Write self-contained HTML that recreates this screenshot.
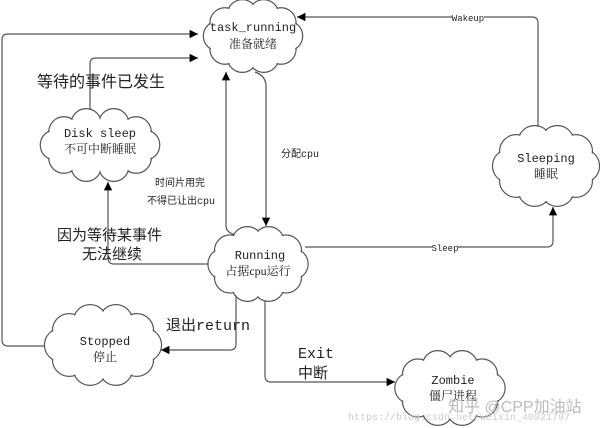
<!DOCTYPE html>
<html><head><meta charset="utf-8"><style>
html,body{margin:0;padding:0;background:#fff;width:600px;height:428px;overflow:hidden}
svg text{font-family:"Liberation Mono","Noto Sans CJK SC",monospace;fill:#222}
.cn{font-family:"Liberation Serif","Noto Serif CJK SC",serif}
</style></head><body>
<svg id="s" width="600" height="428" viewBox="0 0 600 428" xmlns="http://www.w3.org/2000/svg">
<defs><marker id="a" viewBox="0 0 10 10" refX="10" refY="5" markerWidth="7" markerHeight="7" orient="auto"><path d="M0,0L10,5L0,10z" fill="#000"/></marker></defs>
<g fill="none" stroke="#555" stroke-width="1.2">
<path d="M45,346 H8 Q2,346 2,340 V40 Q2,34 8,34 H198" marker-end="url(#a)"/>
<path d="M90,110 V64 Q90,58 96,58 H198" marker-end="url(#a)"/>
<path d="M212,264 H114 Q108,264 108,258 V182" marker-end="url(#a)"/>
<path d="M248,236 Q226,236 226,226 V72" marker-end="url(#a)"/>
<path d="M255,72 Q266,76 266,86 V226" marker-end="url(#a)"/>
<path d="M305,247 H547 Q553,247 553,241 V207" marker-end="url(#a)"/>
<path d="M538,130 V23 Q538,17 532,17 H297" marker-end="url(#a)"/>
<path d="M236,292 V344 Q236,350 230,350 H161" marker-end="url(#a)"/>
<path d="M265,300 V376 Q265,382 271,382 H395" marker-end="url(#a)"/>
</g>
<g id="clouds"></g>
<rect x="452" y="12" width="32" height="11" fill="#fff"/>
<text x="468" y="21" font-size="9" text-anchor="middle">Wakeup</text>
<rect x="432" y="242" width="26" height="11" fill="#fff"/>
<text x="445" y="251" font-size="9" text-anchor="middle">Sleep</text>
<g text-anchor="middle" font-size="12">
<text x="253" y="31">task_running</text><text x="253" y="48" class="cn">准备就绪</text>
<text x="100" y="137">Disk sleep</text><text x="100" y="153" class="cn">不可中断睡眠</text>
<text x="546" y="162">Sleeping</text><text x="546" y="178" class="cn">睡眠</text>
<text x="260" y="259">Running</text><text x="258" y="275" class="cn">占据cpu运行</text>
<text x="105" y="345">Stopped</text><text x="105" y="361" class="cn">停止</text>
<text x="453" y="384">Zombie</text><text x="453" y="400" class="cn">僵尸进程</text>
</g>
<g class="cn">
<text x="37" y="87" font-size="16">等待的事件已发生</text>
<text x="57" y="240" font-size="15">因为等待某事件</text>
<text x="82" y="259" font-size="15">无法继续</text>
<text x="166" y="330" font-size="15">退出return</text>
<text x="298" y="358" font-size="15">Exit</text>
<text x="298" y="378" font-size="15">中断</text>
<text x="281" y="157" font-size="10">分配cpu</text>
<text x="155" y="186" font-size="10">时间片用完</text>
<text x="147" y="204" font-size="10">不得已让出cpu</text>
</g>
<text x="448" y="412" font-size="16" fill="#bbb" style="fill:#bbb;font-family:'Liberation Sans','Noto Sans CJK SC',sans-serif">知乎 @CPP加油站</text>
<text x="348" y="420" font-size="10" style="fill:#ccc">https://blog.csdn.net/weixin_40921797</text>
</svg>
<script>
var C=[[253,36,48,36],[100,145,62,36],[546,166,51,40],[258,264,48,37],[103,345,58,40],[450,388,55,37]];
var g=document.getElementById('clouds'),ns='http://www.w3.org/2000/svg',o='',f='';
C.forEach(function(c){var n=10;for(var i=0;i<n;i++){var t=i/n*2*Math.PI;var x=c[0]+c[2]*0.72*Math.cos(t),y=c[1]+c[3]*0.62*Math.sin(t);var r=Math.min(c[2],c[3])*0.42;
o+='<circle cx="'+x+'" cy="'+y+'" r="'+r+'" fill="none" stroke="#555" stroke-width="1.2"/>';
f+='<circle cx="'+x+'" cy="'+y+'" r="'+(r-0.8)+'" fill="#fff"/>';}
f+='<ellipse cx="'+c[0]+'" cy="'+c[1]+'" rx="'+c[2]*0.75+'" ry="'+c[3]*0.65+'" fill="#fff"/>';});
g.innerHTML=o+f;
</script>
</body></html>
